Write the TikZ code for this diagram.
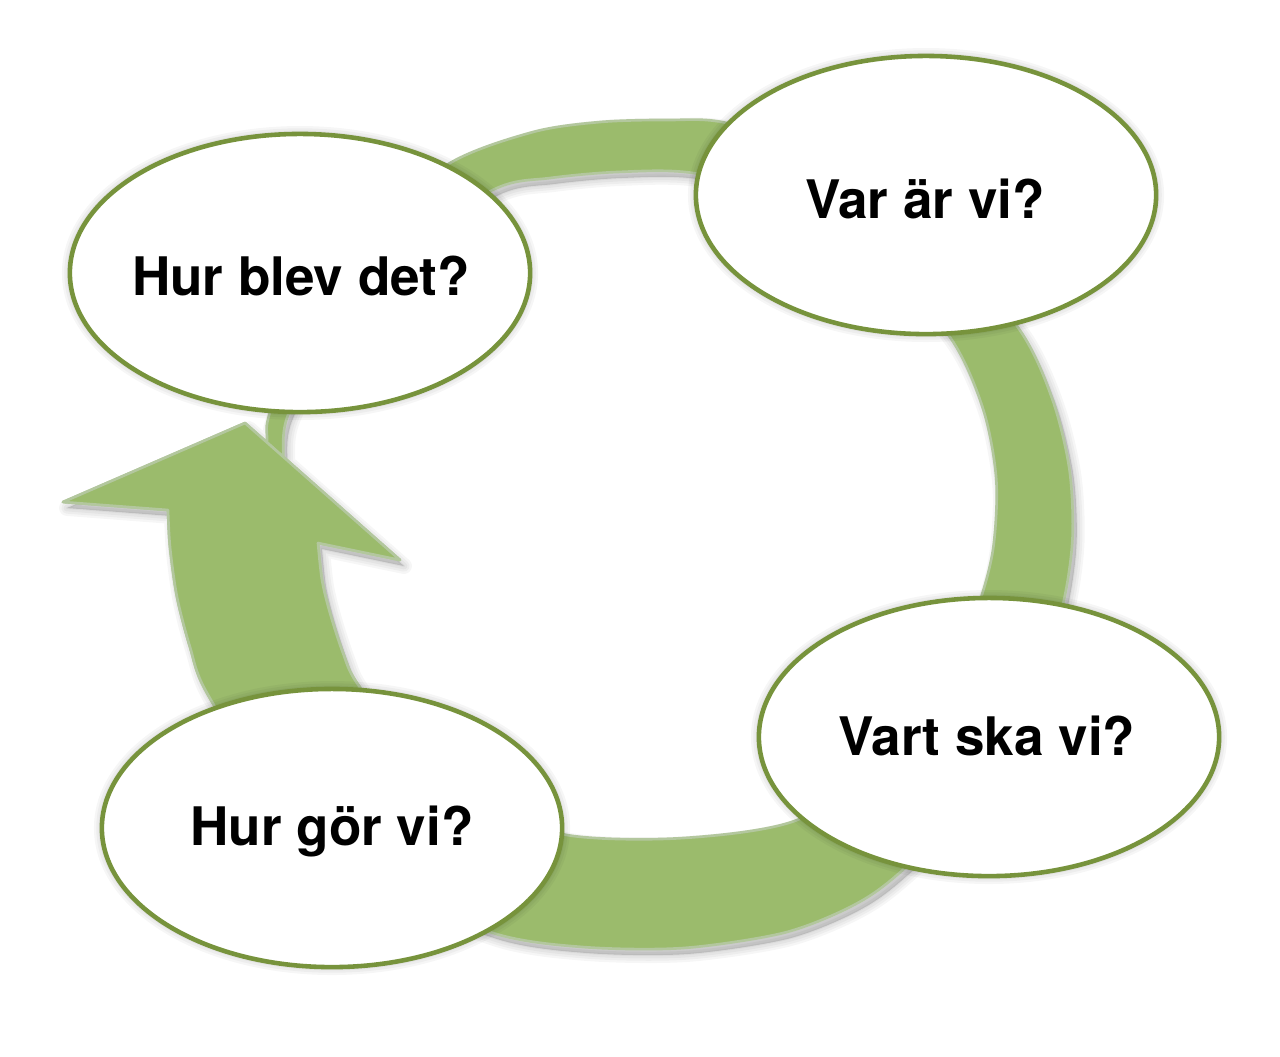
\documentclass[tikz,border=0pt]{standalone}
\usepackage{fontspec}
\setmainfont{TeX Gyre Heros}
\usetikzlibrary{shapes.geometric}
\definecolor{ringfill}{HTML}{9BBB6C}
\definecolor{ringedge}{HTML}{B3C79E}
\definecolor{bubbleedge}{HTML}{77933C}

\newcommand\ringfullpath{%
  plot[smooth] coordinates {(268,490) (267,440) (270,412) (306,314) (366,231) (450,163) (533,132) (600,122) (667,120) (727,123) (835,158) (939,233) (1019.8,330) (1052.6,400) (1069.5,470) (1072.4,540) (1061.6,610) (1032,700) (985,790) (897,875) (850,907) (783,933) (683,948) (583,947) (493,933) (377,882) (278,802) (207,693) (190,647) (177,597) (170,547) (168,510)}
  -- (63,502) -- (245,423) -- (400,560) -- (318,543)
  -- plot[smooth] coordinates {(318,543) (322,580) (330,613) (343,653) (357,683) (410,750) (484,803) (567,835) (683,838) (797,820) (880,760) (946,670) (976.5,610) (992.9,550) (996.3,480) (983.4,410) (951.9,340) (882,258) (798,200) (693,173) (617,172) (550,178) (497,188) (406,243) (337,318) (288,415) (283,460) (278,490)}
  -- cycle}

\newcommand\ringheadpath{%
  plot[smooth] coordinates {(377,882) (278,802) (207,693) (190,647) (177,597) (170,547) (168,510)}
  -- (63,502) -- (245,423) -- (400,560) -- (318,543)
  -- plot[smooth] coordinates {(318,543) (322,580) (330,613) (343,653) (357,683) (410,750) (484,803)}
  -- cycle}

\begin{document}
\begin{tikzpicture}[x=0.01cm,y=-0.01cm,
  bubble/.style={ellipse, draw=bubbleedge, line width=1.3pt, fill=white,
    minimum width=4.6cm, minimum height=2.78cm, inner sep=0pt, outer sep=0pt},
  bubbleshadow/.style={fill=black, draw=black, opacity=0.035},
  ringshape/.style={fill=ringfill, draw=ringedge, line width=0.75pt, line join=round},
  lbl/.style={font=\fontsize{15.1}{18}\selectfont\bfseries, text=black,
    inner sep=0pt, anchor=base},
]
\useasboundingbox (0,0) rectangle (1280,1056);
\fill[white] (0,0) rectangle (1280,1056);

% ellipse centres
\coordinate (c1) at (300,273);
\coordinate (c2) at (926,195);
\coordinate (c3) at (989,737);
\coordinate (c4) at (332,828);

% soft shadow of the ring arrow
\foreach \w in {4.5pt,3.2pt,1.9pt,0.6pt}
  \filldraw[black, opacity=0.035, line width=\w, line join=round, shift={(4,6)}] \ringfullpath;

% ring arrow
\filldraw[ringshape] \ringfullpath;
\filldraw[ringshape] \ringheadpath;

% soft shadows of the bubbles
\foreach \c in {c1,c2,c3,c4}{
  \foreach \w in {4.5pt,3.2pt,1.9pt,0.6pt}
    \filldraw[bubbleshadow, line width=\w, shift={(5,7)}] (\c) ellipse [x radius=2.3cm, y radius=1.39cm];
}

% bubbles
\node[bubble] (e1) at (c1) {};
\node[bubble] (e2) at (c2) {};
\node[bubble] (e3) at (c3) {};
\node[bubble] (e4) at (c4) {};

% labels
\node[lbl] (t1) at (301,295) {Hur blev det?};
\node[lbl] (t2) at (925,218) {Var är vi?};
\node[lbl] (t3) at (987,755) {Vart ska vi?};
\node[lbl] (t4) at (332,845) {Hur gör vi?};
\end{tikzpicture}
\end{document}
